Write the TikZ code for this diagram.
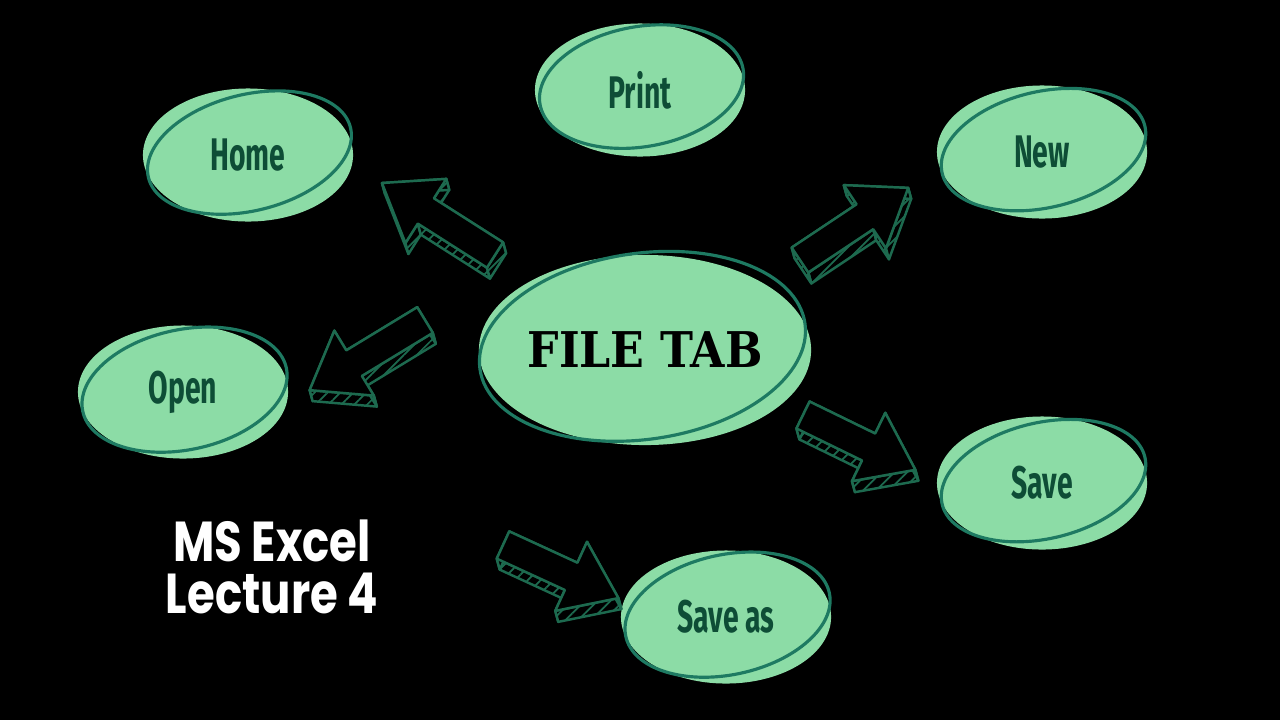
\documentclass[tikz,border=0pt]{standalone}
\usepackage{fontspec}
\usepackage{tikz}
\usetikzlibrary{calc}
\usetikzlibrary{shapes.geometric}
\usetikzlibrary{patterns.meta}

\newfontfamily\labelfont[FakeStretch=0.62]{Fira Sans}
\newfontfamily\titlefont[FakeStretch=0.9, BoldFont={DejaVu Serif Bold}]{DejaVu Serif}
\newfontfamily\lecturefont[FakeStretch=0.8]{Poppins}

\definecolor{bubblec}{HTML}{8CDCA6}
\definecolor{rimc}{HTML}{1E7A62}
\definecolor{ink}{HTML}{0E4D36}
\definecolor{arrowc}{HTML}{1D6A4F}

\tikzset{
  bubble/.style={ellipse, fill=bubblec, inner sep=0pt, minimum width=2.1cm, minimum height=1.33cm,
    text=ink, font=\labelfont\bfseries\fontsize{13}{15}\selectfont},
  rim/.style={draw=rimc, line width=0.9pt},
  arrowline/.style={draw=arrowc, line width=0.7pt, line join=round},
  side/.style={fill=black, postaction={pattern={Lines[angle=45,distance=2.6pt,line width=0.5pt]}, pattern color=arrowc}},
}

% #1 tail, #2 angle, #3 length
\newcommand{\fatarrow}[3]{%
  \pgfmathsetmacro{\ox}{3*cos(#2)-11*sin(#2)}%
  \pgfmathsetmacro{\oy}{-3*sin(#2)-11*cos(#2)}%
  \pgfmathsetmacro{\hb}{#3-52}%
  \begin{scope}[shift={#1}, rotate=#2]
    \foreach \ax/\ay/\bx/\by in {0/-15/\hb/-15, \hb/-15/\hb/-38, \hb/-38/#3/0, #3/0/\hb/38, \hb/38/\hb/15, \hb/15/0/15, 0/15/0/-15}
      \draw[arrowline, side] (\ax,\ay) -- (\bx,\by) -- ({\bx+\ox},{\by+\oy}) -- ({\ax+\ox},{\ay+\oy}) -- cycle;
    \draw[arrowline, fill=black] (0,-15) -- (\hb,-15) -- (\hb,-38) -- (#3,0) -- (\hb,38) -- (\hb,15) -- (0,15) -- cycle;
  \end{scope}}

\begin{document}
\begin{tikzpicture}[x=0.01cm,y=0.01cm]
  \fill[black] (0,0) rectangle (1280,720);
  \useasboundingbox (0,0) rectangle (1280,720);

  % centre
  \node[bubble, minimum width=3.25cm, minimum height=1.9cm, text=black,
    font=\titlefont\bfseries\fontsize{14}{16}\selectfont] (file) at (645,370) {FILE TAB};
  \draw[rim, rotate around={8:(file.center)}] ($(file.center)+(-2,4)$) ellipse [x radius=1.64cm, y radius=0.93cm];

  % options
  \node[bubble] (print) at (640,630) {Print};
  \draw[rim, rotate around={10:(print.center)}] ($(print.center)+(2,3)$) ellipse [x radius=1.03cm, y radius=0.6cm];

  \node[bubble] (home) at (248,565) {Home};
  \draw[rim, rotate around={14:(home.center)}] ($(home.center)+(2,2)$) ellipse [x radius=1.04cm, y radius=0.58cm];

  \node[bubble] (new) at (1042,568) {New};
  \draw[rim, rotate around={13:(new.center)}] ($(new.center)+(2,2)$) ellipse [x radius=1.04cm, y radius=0.58cm];

  \node[bubble] (open) at (183,328) {\raisebox{-4pt}{Open}};
  \draw[rim, rotate around={12:(open.center)}] ($(open.center)+(2,2)$) ellipse [x radius=1.04cm, y radius=0.6cm];

  \node[bubble] (save) at (1042,237) {Save};
  \draw[rim, rotate around={13:(save.center)}] ($(save.center)+(2,2)$) ellipse [x radius=1.04cm, y radius=0.58cm];

  \node[bubble] (saveas) at (726,103) {Save as};
  \draw[rim, rotate around={12:(saveas.center)}] ($(saveas.center)+(2,2)$) ellipse [x radius=1.04cm, y radius=0.6cm];

  % arrows
  \coordinate (toHome) at (495,465);
  \coordinate (toNew) at (800,460);
  \coordinate (toOpen) at (425,400);
  \coordinate (toSave) at (803,305);
  \coordinate (toSaveas) at (503,175);
  \fatarrow{(toHome)}{147.5}{134}
  \fatarrow{(toNew)}{33.7}{130}
  \fatarrow{(toOpen)}{211.3}{135}
  \fatarrow{(toSave)}{-26}{125}
  \fatarrow{(toSaveas)}{-24.7}{127}

  \node[text=white, align=center, font=\lecturefont\bfseries\fontsize{16}{14.8}\selectfont] (lecture) at (272,153) {MS Excel\\Lecture 4};
\end{tikzpicture}
\end{document}
